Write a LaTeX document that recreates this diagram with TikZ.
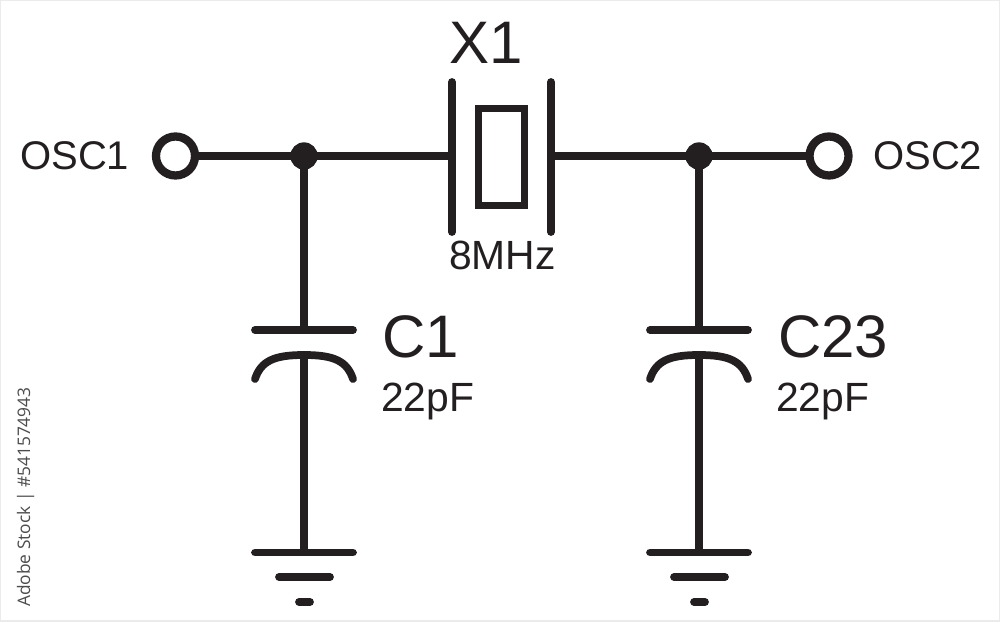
\documentclass[tikz,border=0pt]{standalone}
\usepackage{fontspec}
\setmainfont{Liberation Sans}
\newfontfamily\stockfont{Open Sans}
\definecolor{ink}{HTML}{231F20}
\tikzset{
  wire/.style={draw=ink,line width=6.2pt},
  plate/.style={draw=ink,line width=5.8pt,line cap=round},
  terminal/.style={circle,draw=ink,fill=white,line width=6.2pt,minimum size=29.25pt,inner sep=0pt,outer sep=0pt},
  junction/.style={circle,fill=ink,minimum size=20.5pt,inner sep=0pt},
  crystal/.style={rectangle,draw=ink,fill=white,line width=5.4pt,minimum width=34.5pt,minimum height=72.5pt,inner sep=0pt},
  lab/.style={anchor=base west,inner sep=0pt,text=ink},
  small/.style={lab,font=\fontsize{30}{32}\selectfont},
  mid/.style={lab,font=\fontsize{30.6}{32}\selectfont},
  big/.style={lab,font=\fontsize{45}{50}\selectfont}
}
\begin{document}
\begin{tikzpicture}[x=0.75pt,y=-0.75pt]
\useasboundingbox (0,0) rectangle (1000,623);
\fill[white] (0,0) rectangle (1000,623);
\draw[black!8,line width=1pt] (0,0) rectangle (1000,621);

\coordinate (pl1t) at (452,82);
\coordinate (pl1b) at (452,232);
\coordinate (pl2t) at (551,82);
\coordinate (pl2b) at (551,232);
\coordinate (pl1) at (452,156);
\coordinate (pl2) at (551,156);

\node[terminal] (t1) at (175.5,156) {};
\node[terminal] (t2) at (829,156) {};
\node[junction] (j1) at (304,156) {};
\node[junction] (j2) at (699,156) {};

\draw[wire] (t1) -- (j1.center) -- (pl1);
\draw[wire] (pl2) -- (j2.center) -- (t2);

\draw[plate] (pl1t) -- (pl1b);
\draw[plate] (pl2t) -- (pl2b);
\node[crystal] (xtal) at (501.5,157) {};

% capacitors and grounds
\foreach \n/\x in {a/304,b/699}{
  \coordinate (cap\n t) at (\x,330);
  \coordinate (cap\n c) at (\x,355);
  \coordinate (gnd\n) at (\x,552.5);
  \draw[wire] (cap\n t) -- (\x,156);
  \draw[wire] (cap\n c) -- (gnd\n);
  \draw[plate] (\x-49,330) -- (\x+49,330);
  \draw[plate] (\x-49,379) .. controls (\x-43,361) and (\x-30,355) .. (cap\n c)
               .. controls (\x+30,355) and (\x+43,361) .. (\x+49,379);
  \draw[plate] (\x-49,552.5) -- (\x+49,552.5);
  \draw[plate] (\x-25,577) -- (\x+26,577);
  \draw[plate] (\x-5,602) -- (\x+6,602);
}

\node[small] (osc1) at (20,170) {OSC1};
\node[small] (osc2) at (873,170) {OSC2};
\node[big] (x1) at (449,64) {X1};
\node[mid] (f) at (449,270) {8MHz};
\node[big] (c1) at (382,358) {C1};
\node[mid] (v1) at (381,412) {22pF};
\node[big] (c23) at (778,358) {C23};
\node[mid] (v2) at (776,412) {22pF};

\node[anchor=base west,inner sep=0pt,rotate=90,text=black!70,font=\stockfont\fontsize{13}{15}\selectfont]
  (stock) at (30,607) {Adobe Stock | \#541574943};
\end{tikzpicture}
\end{document}
